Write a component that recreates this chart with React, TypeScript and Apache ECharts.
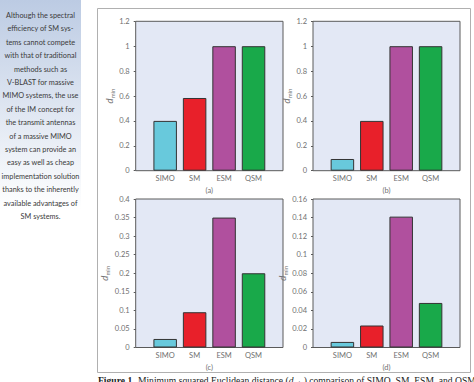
import React, { useEffect, useRef } from "react";
import * as echarts from "echarts";

const categories = ["SIMO", "SM", "ESM", "QSM"];
const valuesA = [0.4, 0.584, 1, 1];
const valuesB = [0.094, 0.4, 1, 1];
const valuesC = [0.023, 0.095, 0.35, 0.2];
const valuesD = [0.006, 0.0237, 0.141, 0.048];
const panelLabels = ["(a)", "(b)", "(c)", "(d)"];
const yMaxes = [1.2, 1.2, 0.4, 0.16];
const ySteps = [0.2, 0.2, 0.05, 0.02];
const barColors = ["#68c9dc", "#e8202a", "#b0509e", "#19a94a"];

const sidebarLines = [
  "Although the spectral",
  "efficiency of SM sys-",
  "tems cannot compete",
  "with that of traditional",
  "methods such as",
  "V-BLAST for massive",
  "MIMO systems, the use",
  "of the IM concept for",
  "the transmit antennas",
  "of a massive MIMO",
  "system can provide an",
  "easy as well as cheap",
  "implementation solution",
  "thanks to the inherently",
  "available advantages of",
  "SM systems.",
];

const FONT = "Lato, 'Liberation Sans', sans-serif";
const LABEL = "#707070";

export default function App() {
  const ref = useRef<HTMLDivElement>(null);
  useEffect(() => {
    if (!ref.current) return;
    const chart = echarts.init(ref.current, undefined, { renderer: "svg" });
    const panels = [valuesA, valuesB, valuesC, valuesD];
    const grids = [
      { left: 135.7, top: 21.3, width: 147.3, height: 149.4 },
      { left: 313, top: 21.3, width: 147, height: 149.4 },
      { left: 135.7, top: 199, width: 147.3, height: 148.5 },
      { left: 313, top: 199, width: 147, height: 148.5 },
    ];
    const option: any = {
      animation: false,
      backgroundColor: "#ffffff",
      grid: grids.map((g) => ({
        ...g,
        show: true,
        backgroundColor: "#e3e8f5",
        borderColor: "#5a5a5a",
        borderWidth: 1,
      })),
      xAxis: panels.map((_, i) => ({
        type: "value",
        gridIndex: i,
        min: 0,
        max: 5,
        interval: 1,
        splitLine: { show: false },
        axisLine: { show: false },
        axisTick: { show: false },
        axisLabel: {
          color: LABEL,
          fontSize: 7.5,
          fontFamily: FONT,
          margin: 4,
          formatter: (v: number) => categories[v - 1] ?? "",
        },
        name: panelLabels[i],
        nameLocation: "middle",
        nameGap: 16,
        nameTextStyle: { color: LABEL, fontSize: 7.5, fontFamily: FONT },
      })),
      yAxis: panels.map((_, i) => ({
        type: "value",
        gridIndex: i,
        min: 0,
        max: yMaxes[i],
        interval: ySteps[i],
        splitLine: { show: false },
        axisLine: { show: false },
        axisTick: { show: true, length: 2, lineStyle: { color: "#5a5a5a" } },
        axisLabel: {
          color: LABEL,
          fontSize: 7.5,
          fontFamily: FONT,
          margin: 6,
        },
        name: "{d|d}{s|min}",
        nameLocation: "middle",
        nameRotate: 90,
        nameGap: 17,
        nameTextStyle: {
          rich: {
            d: { fontSize: 9.5, fontStyle: "italic", color: LABEL, fontFamily: FONT, lineHeight: 12, verticalAlign: "middle" },
            s: { fontSize: 6, color: LABEL, fontFamily: FONT, lineHeight: 12, verticalAlign: "bottom", padding: [4, 0, 0, 0] },
          },
        },
      })),
      series: panels.map((vals, i) => ({
        type: "bar",
        xAxisIndex: i,
        yAxisIndex: i,
        barWidth: 23.5,
        data: vals.map((v, j) => ({
          value: [j + 1, v],
          itemStyle: { color: barColors[j], borderColor: "#333333", borderWidth: 1 },
        })),
      })),
      graphic: [
        {
          type: "rect",
          shape: { x: 0, y: 0, width: 81, height: 300 },
          style: {
            fill: new echarts.graphic.LinearGradient(0, 0, 0, 1, [
              { offset: 0, color: "#bccbe3" },
              { offset: 0.7, color: "#ffffff" },
              { offset: 1, color: "#ffffff" },
            ]),
          },
          silent: true,
          z: -10,
        },
        {
          type: "text",
          x: 40.5,
          y: 8,
          scaleX: 0.86,
          originX: 0,
          style: {
            text: sidebarLines.join("\n"),
            fill: "#3a3a3a",
            fontSize: 8.5,
            fontFamily: FONT,
            lineHeight: 13.4,
            align: "center",
            verticalAlign: "top",
          },
        },
        {
          type: "rect",
          shape: { x: 97.5, y: 8.5, width: 373, height: 364 },
          style: { fill: "none", stroke: "#b0b0b0", lineWidth: 1 },
          silent: true,
          z: -5,
        },
        {
          type: "text",
          x: 98,
          y: 374,
          style: {
            text: "{b|Figure 1.} {n|Minimum squared Euclidean distance (}{i|d}{s|min}{n|) comparison of SIMO, SM, ESM, and QSM}",
            rich: {
              b: { fontSize: 9.6, fontWeight: "bold", fontFamily: "'Liberation Serif', serif", fill: "#222" },
              n: { fontSize: 9.6, fontFamily: "'Liberation Serif', serif", fill: "#222" },
              i: { fontSize: 9.6, fontStyle: "italic", fontFamily: "'Liberation Serif', serif", fill: "#222" },
              s: { fontSize: 6.5, fontFamily: "'Liberation Serif', serif", fill: "#222", verticalAlign: "bottom" },
            },
            verticalAlign: "top",
          },
        },
      ],
    };
    chart.setOption(option);
    return () => chart.dispose();
  }, []);
  return (
    <div
      ref={ref}
      style={{ position: "fixed", left: 0, top: 0, width: 474, height: 382 }}
    />
  );
}
